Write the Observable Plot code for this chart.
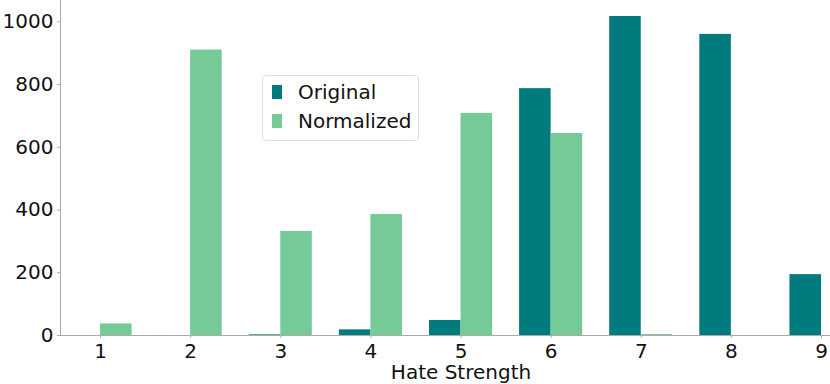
<!DOCTYPE html>
<html>
<head>
<meta charset="utf-8">
<script src="https://cdn.jsdelivr.net/npm/d3@7"></script>
<script src="https://cdn.jsdelivr.net/npm/@observablehq/plot@0.6"></script>
<style>
  html, body { margin: 0; padding: 0; background: #fff; overflow: hidden; }
  #wrap { position: relative; width: 830px; height: 384px; font-family: "DejaVu Sans", sans-serif; }
  #legend { position: absolute; left: 262px; top: 75px; width: 155px; height: 64px;
    border: 1px solid #e0e0e0; border-radius: 4px; background: rgba(255,255,255,0.8); }
  .item { position: absolute; left: 9px; display: flex; align-items: center; font-size: 20px; color: #111; }
  .sw { width: 10px; height: 14px; margin-right: 16px; }
</style>
</head>
<body>
<div id="wrap"></div>
<script>
const categories = [1, 2, 3, 4, 5, 6, 7, 8, 9];
const original   = [0, 0, 2, 18, 48, 787, 1017, 960, 194];
const normalized = [37, 910, 332, 386, 708, 644, 3, 0, 0];
const yTicks = [0, 200, 400, 600, 800, 1000];
const seriesNames = ["Original", "Normalized"];
const seriesColors = ["#017b7d", "#76ca98"];
const xLabel = "Hate Strength";

const data = categories.flatMap((c, i) => [
  {c, series: "Original", v: original[i]},
  {c, series: "Normalized", v: normalized[i]}
]);
const barW = 0.35;

const chart = Plot.plot({
  width: 830, height: 384,
  marginLeft: 60, marginRight: 0, marginTop: 0, marginBottom: 49,
  style: {fontFamily: "DejaVu Sans, sans-serif", fontSize: "20px", color: "#111", background: "#fff"},
  x: {type: "linear", domain: [0.5556, 9.1], label: null},
  y: {domain: [0, 1068], label: null},
  color: {domain: seriesNames, range: seriesColors},
  marks: [
    Plot.rectY(data, {
      x1: d => d.series === "Original" ? d.c - barW : d.c,
      x2: d => d.series === "Original" ? d.c : d.c + barW,
      y1: 0, y2: "v", fill: "series"
    }),
    Plot.ruleY([0], {stroke: "#aaa", strokeWidth: 1}),
    Plot.ruleX([0.5556], {stroke: "#aaa", strokeWidth: 1}),
    Plot.axisX({ticks: categories, tickFormat: d => String(d), tickSize: 3, tickPadding: 5, stroke: "#aaa", fontSize: 20, fill: "#111", label: null}),
    Plot.axisY({ticks: yTicks, tickFormat: d => String(d), tickSize: 3, tickPadding: 4, stroke: "#aaa", fontSize: 20, fill: "#111", label: null}),
    Plot.text([xLabel], {x: 5, frameAnchor: "bottom", dy: 37, lineAnchor: "middle", fontSize: 20, fill: "#111", text: d => d})
  ]
});
const wrap = document.getElementById("wrap");
wrap.appendChild(chart);

const legend = document.createElement("div");
legend.id = "legend";
seriesNames.forEach((name, i) => {
  const item = document.createElement("div");
  item.className = "item";
  item.style.top = (i === 0 ? 4 : 33) + "px";
  const sw = document.createElement("span");
  sw.className = "sw";
  sw.style.background = seriesColors[i];
  const t = document.createElement("span");
  t.textContent = name;
  item.appendChild(sw); item.appendChild(t);
  legend.appendChild(item);
});
wrap.appendChild(legend);
chart.style.position = "absolute";
chart.style.left = "0"; chart.style.top = "0";
</script>
</body>
</html>
